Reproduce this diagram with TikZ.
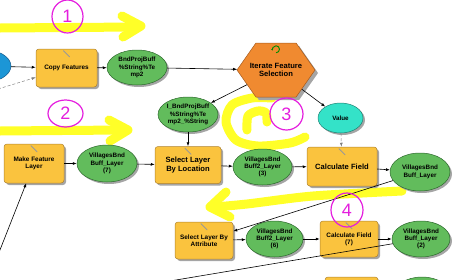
\documentclass[tikz,border=0pt]{standalone}
\usepackage{fontspec}
\setsansfont{Liberation Sans}
\usetikzlibrary{positioning, arrows.meta, shadows, shapes.geometric, shapes.symbols}
\definecolor{toolfill}{RGB}{250, 195, 62}
\definecolor{tooldraw}{RGB}{175, 130, 45}
\definecolor{datafill}{RGB}{98, 188, 92}
\definecolor{datadraw}{RGB}{45, 105, 45}
\definecolor{iterfill}{RGB}{240, 138, 48}
\definecolor{iterdraw}{RGB}{165, 90, 30}
\definecolor{valuefill}{RGB}{52, 226, 200}
\definecolor{valuedraw}{RGB}{30, 130, 115}
\definecolor{inputfill}{RGB}{28, 150, 214}
\definecolor{inputdraw}{RGB}{20, 90, 140}
\definecolor{shadowgray}{RGB}{165, 165, 165}
\definecolor{markyellow}{RGB}{255, 255, 40}
\definecolor{penmagenta}{RGB}{228, 30, 222}

\begin{document}
\begin{tikzpicture}[
    x=1pt, y=-1pt, % 以像素为单位, y 轴向下
    >={Latex[length=4pt, width=3pt]},
    font=\sffamily\bfseries,
    % 组件样式
    toolbox/.style={rectangle, draw=tooldraw, fill=toolfill, line width=0.5pt, rounded corners=3pt, inner sep=0pt, align=center,
        font=\sffamily\bfseries\fontsize{6.4}{7.3}\selectfont,
        drop shadow={shadow xshift=2pt, shadow yshift=-2pt, fill=shadowgray, opacity=1}},
    bigtool/.style={toolbox, font=\sffamily\bfseries\fontsize{7.6}{8.7}\selectfont},
    dataell/.style={ellipse, draw=datadraw, fill=datafill, line width=0.5pt, inner sep=0pt, align=center,
        font=\sffamily\bfseries\fontsize{6.3}{7.3}\selectfont,
        drop shadow={shadow xshift=2pt, shadow yshift=-2pt, fill=shadowgray, opacity=1}},
    valueell/.style={dataell, draw=valuedraw, fill=valuefill},
    inputell/.style={ellipse, draw=inputdraw, fill=inputfill, line width=0.5pt, minimum width=60, minimum height=34},
    iterstep/.style={signal, signal to=east and west, signal pointer angle=110, draw=iterdraw, fill=iterfill, line width=0.5pt,
        inner sep=0pt, minimum width=78, minimum height=54,
        drop shadow={shadow xshift=3pt, shadow yshift=-3pt, fill=shadowgray, opacity=1}},
    itertext/.style={align=center, inner sep=0pt, font=\sffamily\bfseries\fontsize{7.6}{8.7}\selectfont},
    flow/.style={->, line width=0.6pt, draw=black},
    dashflow/.style={->, line width=0.5pt, draw=gray, densely dashed},
    line/.style={-, line width=0.6pt, draw=black},
    highlight/.style={draw=markyellow, line width=9pt, line cap=round, line join=round},
    pencircle/.style={ellipse, draw=penmagenta, line width=1.2pt, text=penmagenta, inner sep=0pt,
        font=\sffamily\mdseries\fontsize{18}{18}\selectfont},
    toolmark/.style={draw=gray!80, line width=1pt, line cap=round},
    loopmark/.style={draw=green!55!black, line width=0.9pt, -{Stealth[length=2pt, width=2.5pt]}}
]

% 三行节点的 Y 坐标
\def\Yrowa{68}
\def\Yrowb{165}
\def\Yrowc{239}

\useasboundingbox (0,0) rectangle (474,279);
\clip (0,0) rectangle (474,279);

% ==========================================
% 1. 黄色荧光笔标注 (底层)
% ==========================================
\draw[highlight] (0,28) -- (138,27);
\draw[highlight] (122,16) -- (141,26) -- (123,37);
\draw[highlight] (0,131) -- (124,130);
\draw[highlight] (109,120) -- (128,130) -- (110,141);
% 中间的漩涡
\draw[highlight] plot[smooth] coordinates {(305,137) (290,143) (258,146) (236,140) (226,122) (232,105) (252,98) (272,98)};
\draw[highlight] plot[smooth] coordinates {(247,130) (248,116) (258,111) (266,113) (267,122)};
% 向左的箭头
\draw[highlight] plot[smooth] coordinates {(402,191) (313,196) (247,204) (214,207)};
\draw[highlight] (226,192) -- (210,207) -- (230,217);

% ==========================================
% 2. 模型节点
% ==========================================
\node[inputell] (inputvar) at (-19, 66) {};
\node[toolbox, minimum width=61, minimum height=38] (copyfeat) at (66.5, \Yrowa) {Copy Features};
\node[dataell, minimum width=60, minimum height=35] (bndbuff) at (137, 67.5) {BndProjBuff\\\%String\%Te\\mp2};
\node[iterstep] (iterate) at (276, 70) {};
\node[itertext] (iteratelabel) at (iterate.center) {Iterate Feature\\Selection};
\node[dataell, minimum width=60, minimum height=35] (ibndbuff) at (188, 114.5) {I\_BndProjBuff\\\%String\%Te\\mp2\_\%String};
\node[valueell, minimum width=45, minimum height=30] (value) at (340.5, 118) {Value};

\node[toolbox, minimum width=60, minimum height=39] (makelayer) at (34, 163.5) {Make Feature\\Layer};
\node[dataell, minimum width=60, minimum height=37] (villages7) at (107, 163.5) {VillagesBnd\\Buff\_Layer\\(7)};
\node[bigtool, minimum width=66, minimum height=37] (selloc) at (188, \Yrowb) {Select Layer\\By Location};
\node[dataell, minimum width=59, minimum height=36] (villbuff3) at (262.5, 167) {VillagesBnd\\Buff2\_Layer\\(3)};
\node[bigtool, minimum width=70, minimum height=39] (calcfield) at (342, 166.5) {Calculate Field};
\node[dataell, minimum width=60, minimum height=38] (villbuff) at (420, 172) {VillagesBnd\\Buff\_Layer};

\node[toolbox, minimum width=58, minimum height=37] (selattr) at (204, 240.5) {Select Layer By\\Attribute};
\node[dataell, minimum width=57, minimum height=36] (villbuff6) at (274.5, \Yrowc) {VillagesBnd\\Buff2\_Layer\\(6)};
\node[toolbox, minimum width=58, minimum height=36] (calcfield7) at (349, \Yrowc) {Calculate Field\\(7)};
\node[dataell, minimum width=58, minimum height=36] (villbuff2) at (421, \Yrowc) {VillagesBnd\\Buff\_Layer\\(2)};

% 底部被截掉的节点
\node[toolbox, minimum width=53, minimum height=38] (nexttool) at (351.5, 296) {};
\node[dataell, minimum width=58, minimum height=38] (nextdata) at (422, 296) {};

% 工具图标
\foreach \tb in {copyfeat, makelayer, selloc, calcfield, selattr, calcfield7}
    \draw[toolmark] ([xshift=-3pt, yshift=-2pt]\tb.north) -- ++(6,6);
\draw[loopmark] ([yshift=-10pt]iterate.north) arc[start angle=90, end angle=-200, radius=3.5];

% ==========================================
% 3. 连线
% ==========================================
\coordinate (leftin) at (-2, 89);
\coordinate (leftlow) at (-2, 255);
\coordinate (lowout) at (170, 281);

\draw[flow] (inputvar) -- (copyfeat);
\draw[dashflow] (leftin) -- (copyfeat);
\draw[flow] (copyfeat) -- (bndbuff);
\draw[flow] (bndbuff) -- (iterate);
\draw[flow] (iterate) -- (ibndbuff);
\draw[flow] (iterate) -- (value);
\draw[flow] (ibndbuff) -- (selloc);

\draw[flow] (leftlow) -- (makelayer);
\draw[flow] (makelayer) -- (villages7);
\draw[flow] (villages7) -- (selloc);
\draw[flow] (selloc) -- (villbuff3);
\draw[flow] (villbuff3) -- (calcfield);
\draw[dashflow] (value) -- (calcfield);
\draw[flow] (calcfield) -- (villbuff);

\draw[flow] (villbuff) -- (selattr);
\draw[flow] (selattr) -- (villbuff6);
\draw[flow] (villbuff6) -- (calcfield7);
\draw[flow] (calcfield7) -- (villbuff2);
\draw[line] (villbuff2) -- (lowout);

% ==========================================
% 4. 手写编号圈 (顶层)
% ==========================================
\node[pencircle, minimum width=31, minimum height=33] (note1) at (67.5, 16.5) {1};
\node[pencircle, minimum width=35, minimum height=27] (note2) at (65.5, 113.5) {2};
\node[pencircle, minimum width=33, minimum height=32] (note3) at (286.5, 114) {3};
\node[pencircle, minimum width=32, minimum height=34] (note4) at (347, 210) {4};

\end{tikzpicture}
\end{document}
